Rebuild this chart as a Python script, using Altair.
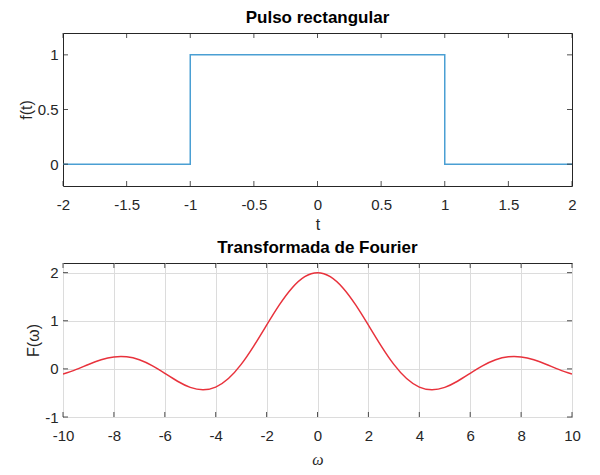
import altair as alt
import pandas as pd

# --- data ---
pulse_t = [-2, -1, -1, 1, 1, 2]
pulse_f = [0, 0, 1, 1, 0, 0]

omega = [-10, -9.5, -9, -8.5, -8, -7.5, -7, -6.5, -6, -5.5, -5, -4.5, -4, -3.5, -3,
         -2.5, -2, -1.5, -1, -0.5, 0, 0.5, 1, 1.5, 2, 2.5, 3, 3.5, 4, 4.5, 5, 5.5,
         6, 6.5, 7, 7.5, 8, 8.5, 9, 9.5, 10]
F_omega = [-0.109, -0.016, 0.092, 0.188, 0.247, 0.250, 0.188, 0.066, -0.093, -0.257,
           -0.384, -0.434, -0.378, -0.200, 0.094, 0.479, 0.909, 1.330, 1.683, 1.918,
           2.000, 1.918, 1.683, 1.330, 0.909, 0.479, 0.094, -0.200, -0.378, -0.434,
           -0.384, -0.257, -0.093, 0.066, 0.188, 0.250, 0.247, 0.188, 0.092, -0.016,
           -0.109]

top_xticks = [-2, -1.5, -1, -0.5, 0, 0.5, 1, 1.5, 2]
top_yticks = [0, 0.5, 1]
bot_xticks = [-10, -8, -6, -4, -2, 0, 2, 4, 6, 8, 10]
bot_yticks = [-1, 0, 1, 2]

W = 509
H1 = 153
H2 = 154
TICK = 5
FONT = "Liberation Sans"
AXC = "#262626"

pulse_df = pd.DataFrame({"t": pulse_t, "f": pulse_f, "i": list(range(len(pulse_t)))})
four_df = pd.DataFrame({"w": omega, "F": F_omega})


def panel(df, xf, yf, xdom, ydom, xticks, yticks, color, xtitle, ytitle, title, H,
          grid, order=None, interp="linear", xtitle_style="normal", xtitle_font=FONT,
          xtitle_pad=4):
    xs = alt.Scale(domain=xdom, nice=False, zero=False)
    ys = alt.Scale(domain=ydom, nice=False, zero=False)
    lab = "'' + datum.value"
    xax = alt.Axis(values=xticks, title=xtitle, labelExpr=lab, grid=grid,
                   titleFontStyle=xtitle_style, titleFont=xtitle_font,
                   titlePadding=xtitle_pad)
    yax = alt.Axis(values=yticks, title=ytitle, labelExpr=lab, grid=grid)
    enc = dict(
        x=alt.X(f"{xf}:Q", scale=xs, axis=xax),
        y=alt.Y(f"{yf}:Q", scale=ys, axis=yax),
    )
    if order is not None:
        enc["order"] = alt.Order(f"{order}:Q")
    line = alt.Chart(df).mark_line(color=color, strokeWidth=1.5, interpolate=interp,
                                   clip=True).encode(**enc)
    xt = pd.DataFrame({"v": xticks})
    yt = pd.DataFrame({"v": yticks})
    xr = alt.X("v:Q", scale=xs, axis=xax)
    yr = alt.Y("v:Q", scale=ys, axis=yax)
    rule = dict(color=AXC, strokeWidth=0.8)
    xb = alt.Chart(xt).mark_rule(**rule).encode(x=xr, y=alt.value(H), y2=alt.value(H - TICK))
    xtop = alt.Chart(xt).mark_rule(**rule).encode(x=xr, y=alt.value(0), y2=alt.value(TICK))
    yl = alt.Chart(yt).mark_rule(**rule).encode(y=yr, x=alt.value(0), x2=alt.value(TICK))
    yrr = alt.Chart(yt).mark_rule(**rule).encode(y=yr, x=alt.value(W), x2=alt.value(W - TICK))
    return alt.layer(line, xb, xtop, yl, yrr).properties(
        width=W, height=H, title=alt.TitleParams(title))


top = panel(pulse_df, "t", "f", [-2, 2], [-0.2, 1.2], top_xticks, top_yticks,
            "#4a9fd3", "t", "f(t)", "Pulso rectangular", H1, grid=False, order="i")
bot = panel(four_df, "w", "F", [-10, 10], [-1, 2.2], bot_xticks, bot_yticks,
            "#e8323c", "ω", "F(ω)", "Transformada de Fourier", H2, grid=True,
            interp="natural", xtitle_style="italic", xtitle_font="Liberation Serif",
            xtitle_pad=8)

chart = alt.vconcat(top, bot, spacing=5).properties(
    padding={"left": 9, "top": 0, "right": 5, "bottom": 0}
).configure_view(
    stroke=AXC, strokeWidth=1
).configure_axis(
    domain=False, ticks=False, labelFont=FONT, labelFontSize=15, labelColor=AXC,
    labelPadding=11, labelFlush=False, labelOverlap=False,
    titleFont=FONT, titleFontSize=16, titleFontWeight="normal",
    titleColor=AXC, gridColor="#dcdcdc", gridWidth=1
).configure_axisY(
    labelPadding=5, titlePadding=3
).configure_title(
    font=FONT, fontSize=17, fontWeight="bold", color="#000000", offset=6, anchor="middle"
)

chart.save("out.html", embed_options={"renderer": "svg", "actions": False})
